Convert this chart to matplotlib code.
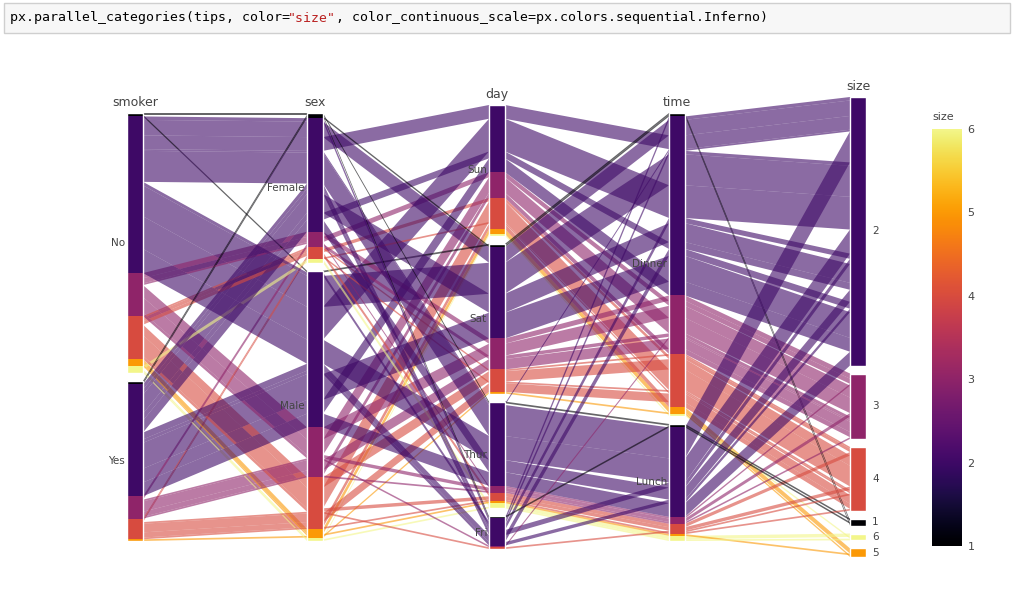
import matplotlib.pyplot as plt
from matplotlib.patches import Polygon, Rectangle
import numpy as np

# category order per dimension (as drawn top to bottom)
dims = ['smoker', 'sex', 'day', 'time', 'size']
cats = {
    'smoker': ['No', 'Yes'],
    'sex': ['Female', 'Male'],
    'day': ['Sun', 'Sat', 'Thur', 'Fri'],
    'time': ['Dinner', 'Lunch'],
    'size': [2, 3, 4, 1, 6, 5],
}

# tips counts, one row per combination
smoker = (['No'] * 8 + ['Yes'] * 5                 # Sun
          + ['No'] * 7 + ['Yes'] * 8               # Sat
          + ['No'] * 11 + ['Yes'] * 4              # Thur
          + ['No'] * 2 + ['Yes'] * 7)              # Fri
sex = (['Female'] * 3 + ['Male'] * 5 + ['Female'] * 2 + ['Male'] * 3
       + ['Female'] * 3 + ['Male'] * 4 + ['Female'] * 4 + ['Male'] * 4
       + ['Female'] * 6 + ['Male'] * 5 + ['Female'] + ['Male'] * 3
       + ['Female', 'Male', 'Female', 'Female', 'Female', 'Male', 'Male', 'Male', 'Male'])
day = ['Sun'] * 13 + ['Sat'] * 15 + ['Thur'] * 15 + ['Fri'] * 9
time = (['Dinner'] * 13 + ['Dinner'] * 15 + ['Dinner'] + ['Lunch'] * 14
        + ['Dinner', 'Dinner', 'Dinner', 'Lunch', 'Lunch', 'Dinner', 'Dinner', 'Lunch', 'Lunch'])
size = ([2, 3, 4, 2, 3, 4, 5, 6, 2, 4, 2, 3, 4]
        + [2, 3, 4, 2, 3, 4, 1, 2, 3, 4, 1, 2, 3, 4, 5]
        + [2, 2, 3, 4, 6, 1, 2, 3, 4, 5, 6, 2, 2, 3, 4]
        + [2, 2, 2, 1, 2, 2, 3, 2, 4])
count = ([8, 3, 2, 19, 9, 12, 3, 1, 4, 1, 8, 3, 3]
         + [9, 3, 1, 18, 7, 6, 1, 11, 2, 1, 1, 15, 6, 5, 1]
         + [1, 18, 1, 2, 2, 1, 14, 2, 2, 1, 1, 7, 8, 1, 1]
         + [2, 2, 3, 1, 3, 4, 1, 2, 1])

records = list(zip(smoker, sex, day, time, size, count))
cmap = plt.get_cmap('inferno')
def col(s):
    return cmap((s - 1) / 5 * 0.97)

xpos = [135, 315, 497, 677, 858]
bw = 16
unit = 420 / sum(count)
gap = 8
cy = 327

# y interval of every record on every dimension
spans = {}
for di, d in enumerate(dims):
    cl = cats[d]
    span = 420 + gap * (len(cl) - 1)
    y = cy - span / 2
    order = sorted(range(len(records)),
                   key=lambda i: (cl.index(records[i][di]), records[i][4],
                                  [str(v) for k, v in enumerate(records[i][:5]) if k != di]))
    cur = None
    cat_box = {}
    for i in order:
        c = records[i][di]
        if cur is not None and c != cur:
            y += gap
        if c not in cat_box:
            cat_box[c] = [y, y]
        cur = c
        h = records[i][5] * unit
        spans[(di, i)] = (y, y + h)
        y += h
        cat_box[c][1] = y
    spans[d] = cat_box

fig = plt.figure(figsize=(10.13, 5.96), dpi=100)
ax = fig.add_axes([0, 0, 1, 1])
ax.set_xlim(0, 1013)
ax.set_ylim(596, 0)
ax.axis('off')

# code cell
cw = 7.94
ax.add_patch(Rectangle((4, 3), 1006, 30, facecolor='#f7f7f7', edgecolor='#cfcfcf', lw=1))
ax.text(10, 18, 'px.parallel_categories(tips, color=', family='DejaVu Sans Mono', fontsize=9.5, va='center')
ax.text(10 + 35 * cw, 18, '"size"', family='DejaVu Sans Mono', fontsize=9.5, va='center', color='#ba2121')
ax.text(10 + 41 * cw, 18, ', color_continuous_scale=px.colors.sequential.Inferno)',
        family='DejaVu Sans Mono', fontsize=9.5, va='center')

# bands
for di in range(len(dims) - 1):
    for i, r in enumerate(records):
        a0, a1 = spans[(di, i)]
        b0, b1 = spans[(di + 1, i)]
        xa = xpos[di] + bw / 2
        xb = xpos[di + 1] - bw / 2
        ax.add_patch(Polygon([(xa, a0), (xb, b0), (xb, b1), (xa, a1)], closed=True,
                             facecolor=col(r[4]), alpha=0.6, lw=0))

# bars
for di, d in enumerate(dims):
    for i, r in enumerate(records):
        y0, y1 = spans[(di, i)]
        ax.add_patch(Rectangle((xpos[di] - bw / 2, y0), bw, y1 - y0, facecolor=col(r[4]), lw=0))
    for c, (y0, y1) in spans[d].items():
        ax.add_patch(Rectangle((xpos[di] - bw / 2, y0), bw, y1 - y0, facecolor='none',
                               edgecolor='white', lw=1))
        if d == 'size':
            ax.text(xpos[di] + bw / 2 + 6, (y0 + y1) / 2, str(c), fontsize=7.5, color='#444', va='center')
        else:
            ax.text(xpos[di] - bw / 2 - 2, (y0 + y1) / 2, str(c), fontsize=7.5, color='#444',
                    va='center', ha='right')
    top = min(v[0] for v in spans[d].values())
    ax.text(xpos[di], top - 4, d, fontsize=9, color='#444', ha='center', va='bottom')

# colorbar
cax = fig.add_axes([932 / 1013, 1 - 546 / 596, 30 / 1013, 417 / 596])
grad = np.linspace(1, 6, 256).reshape(-1, 1)
cax.imshow(grad, aspect='auto', cmap='inferno', origin='lower', extent=[0, 1, 1, 6], vmin=1, vmax=6.15)
cax.set_xticks([])
cax.yaxis.tick_right()
cax.set_yticks([1, 2, 3, 4, 5, 6])
cax.tick_params(axis='y', labelsize=8, colors='#444', length=0, pad=4)
for s in cax.spines.values():
    s.set_visible(False)
ax.text(943, 120, 'size', fontsize=8, color='#444', ha='center')

fig.savefig('out.png', dpi=100)
